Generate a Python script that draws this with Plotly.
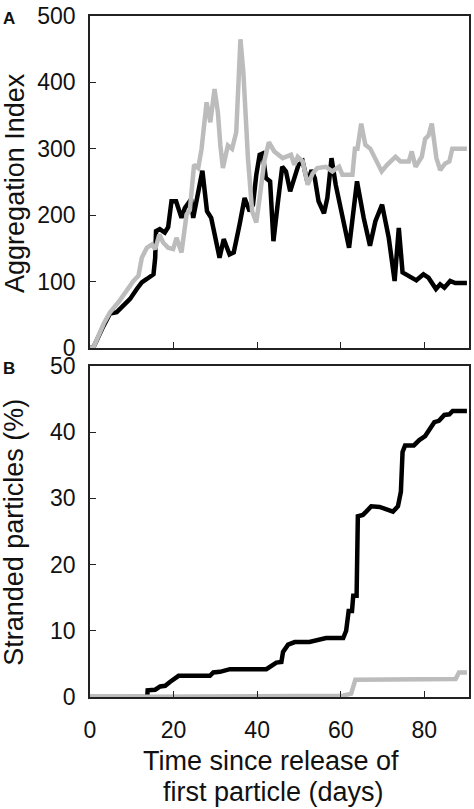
import plotly.graph_objects as go

# ---- Panel A: Aggregation Index ----
t_agg_black = [0, 0.9, 2.9, 4.8, 6.4, 8.0, 9.6, 11.2, 12.4, 13.6, 15.2, 15.6, 15.8, 16.7, 17.9, 18.7,
               19.5, 20.6, 21.9, 22.7, 23.7, 24.2, 24.7, 25.9, 26.9, 28.0, 29.0, 31.0, 32.0, 33.4,
               34.4, 35.8, 37.0, 38.2, 39.0, 39.8, 40.6, 41.3, 42.1, 43.1, 43.9, 44.9, 46.0, 46.9,
               47.9, 48.9, 49.9, 50.9, 52.1, 53.0, 53.8, 54.7, 56.0, 56.8, 57.8, 58.8, 60.4, 62.0,
               63.9, 65.5, 67.0, 68.3, 69.9, 71.5, 72.9, 73.9, 74.8, 76.3, 78.1, 79.8, 81.0, 82.8,
               83.8, 84.8, 86.2, 87.4, 90.2]
agg_black = [0, 2, 29, 52, 54, 64, 74, 89, 99, 104, 111, 136, 176, 179, 174, 182,
             221, 221, 196, 211, 221, 224, 196, 236, 267, 206, 196, 136, 164, 141,
             144, 186, 226, 206, 216, 261, 291, 293, 256, 251, 161, 216, 273, 266,
             236, 256, 276, 281, 248, 268, 256, 221, 203, 226, 286, 246, 196, 151,
             251, 196, 154, 191, 216, 166, 101, 181, 114, 109, 102, 111, 106, 89,
             96, 91, 101, 98, 98]

t_agg_gray = [0, 0.9, 3.3, 4.8, 6.8, 8.8, 10.4, 11.6, 12.4, 13.6, 14.8, 15.6, 16.6, 17.5, 18.7,
              19.9, 20.7, 21.9, 23.1, 23.9, 24.9, 25.9, 26.7, 27.9, 28.8, 29.8, 30.6, 31.2, 31.8,
              33.0, 34.0, 35.0, 36.0, 36.7, 37.8, 38.8, 39.8, 40.7, 41.7, 42.8, 44.1, 46.1, 48.1,
              48.9, 49.7, 50.9, 52.1, 53.3, 54.4, 56.4, 58.0, 59.6, 60.4, 62.8, 63.4, 64.0, 64.9,
              65.9, 67.1, 69.8, 71.1, 73.1, 74.3, 76.3, 77.0, 77.9, 79.4, 80.2, 81.0, 81.8, 82.9,
              83.8, 85.0, 86.0, 86.7, 90.2]
agg_gray = [0, 2, 37, 54, 69, 87, 101, 109, 136, 151, 156, 149, 171, 159, 151,
            149, 166, 144, 201, 208, 276, 271, 300, 370, 340, 390, 355, 305, 271,
            305, 300, 325, 465, 415, 286, 206, 189, 231, 281, 310, 296, 286, 291,
            276, 288, 281, 246, 263, 271, 273, 266, 273, 261, 261, 300, 300, 338,
            306, 300, 266, 276, 288, 281, 281, 296, 273, 288, 315, 320, 338, 286,
            268, 278, 281, 300, 300]

# ---- Panel B: Stranded particles (%) ----
t_str_black = [0, 13.7, 13.8, 15.6, 16.8, 18.0, 19.2, 20.0, 21.2, 28.7, 29.5, 31.1, 33.5, 42.2,
               43.4, 44.6, 45.8, 46.2, 47.4, 49.0, 52.5, 56.5, 60.6, 61.3, 61.9, 62.7, 63.0,
               63.8, 64.1, 65.3, 66.1, 67.3, 69.3, 72.5, 73.7, 74.4, 74.8, 75.4, 77.5, 78.8,
               80.2, 81.2, 82.4, 83.5, 84.8, 86.0, 86.8, 90.2]
str_black = [0, 0, 1.0, 1.1, 1.6, 1.7, 2.3, 2.6, 3.2, 3.2, 3.7, 3.8, 4.2, 4.2,
             4.8, 5.2, 5.3, 6.8, 7.9, 8.3, 8.3, 8.9, 8.9, 10.0, 13.0, 13.0, 15.3,
             15.3, 27.3, 27.5, 28.0, 28.8, 28.7, 28.0, 28.8, 31.0, 37.0, 38.0, 38.0, 38.8,
             39.4, 40.5, 41.5, 41.7, 42.6, 42.7, 43.2, 43.2]

t_str_gray = [0, 60.5, 62.5, 63.5, 87.5, 88.3, 90.2]
str_gray = [0, 0.2, 0.5, 2.6, 2.7, 3.7, 3.7]

x_ticks = [0, 20, 40, 60, 80]
y_ticks_a = [0, 100, 200, 300, 400, 500]
y_ticks_b = [0, 10, 20, 30, 40, 50]

BLACK = "#000000"
GRAY = "#bcbcbc"
FONT = "Liberation Sans, Arial, sans-serif"
LW = 4.5

fig = go.Figure()
fig.add_trace(go.Scatter(x=t_agg_black, y=agg_black, xaxis="x", yaxis="y", mode="lines",
                         line=dict(color=BLACK, width=LW), showlegend=False))
fig.add_trace(go.Scatter(x=t_agg_gray, y=agg_gray, xaxis="x", yaxis="y", mode="lines",
                         line=dict(color=GRAY, width=LW), showlegend=False))
fig.add_trace(go.Scatter(x=t_str_black, y=str_black, xaxis="x2", yaxis="y2", mode="lines",
                         line=dict(color=BLACK, width=LW), showlegend=False))
fig.add_trace(go.Scatter(x=t_str_gray, y=str_gray, xaxis="x2", yaxis="y2", mode="lines",
                         line=dict(color=GRAY, width=LW), showlegend=False))

L, R, T, B = 90, 3, 10, 112
W, H = 474, 809
pw = W - L - R
ph = H - T - B

axis_common = dict(showline=True, mirror=True, linecolor="#222", linewidth=1.5,
                   ticks="inside", ticklen=6, tickwidth=1, tickcolor="#222",
                   showgrid=False, zeroline=False,
                   tickfont=dict(family=FONT, size=23, color="#111"))

fig.update_layout(
    width=W, height=H,
    margin=dict(l=L, r=R, t=T, b=B),
    paper_bgcolor="white", plot_bgcolor="white",
    xaxis=dict(domain=[0, 1], anchor="y", range=[0, 90.7], tickvals=x_ticks,
               showticklabels=False, **axis_common),
    yaxis=dict(domain=[1 - 335 / ph, 1], anchor="x", range=[0, 500], tickvals=y_ticks_a,
               ticklabelstandoff=8, **axis_common),
    xaxis2=dict(domain=[0, 1], anchor="y2", range=[0, 90.7], tickvals=x_ticks,
                ticklabelstandoff=12, **axis_common),
    yaxis2=dict(domain=[0, 1 - 353 / ph], anchor="x2", range=[0, 50], tickvals=y_ticks_b,
                ticklabelstandoff=8, **axis_common),
)

def px_x(p):
    return (p - L) / pw

def px_y(p):
    return (H - B - p) / ph

title_font = dict(family=FONT, size=27, color="#111")
ann = [
    dict(text="Aggregation Index", x=px_x(14), y=px_y(178), textangle=-90),
    dict(text="Stranded particles (%)", x=px_x(14), y=px_y(531), textangle=-90),
    dict(text="Time since release of", x=px_x(272), y=px_y(762)),
    dict(text="first particle (days)", x=px_x(274), y=px_y(793)),
]
for a in ann:
    fig.add_annotation(xref="paper", yref="paper", xanchor="center", yanchor="middle",
                       showarrow=False, font=title_font, **a)

for lab, yc in (("A", 12.5), ("B", 366)):
    fig.add_annotation(text="<b>%s</b>" % lab, xref="paper", yref="paper", x=px_x(9), y=px_y(yc),
                       xanchor="center", yanchor="middle", showarrow=False,
                       font=dict(family=FONT, size=17, color="#111"))

fig.write_html("out.html")
